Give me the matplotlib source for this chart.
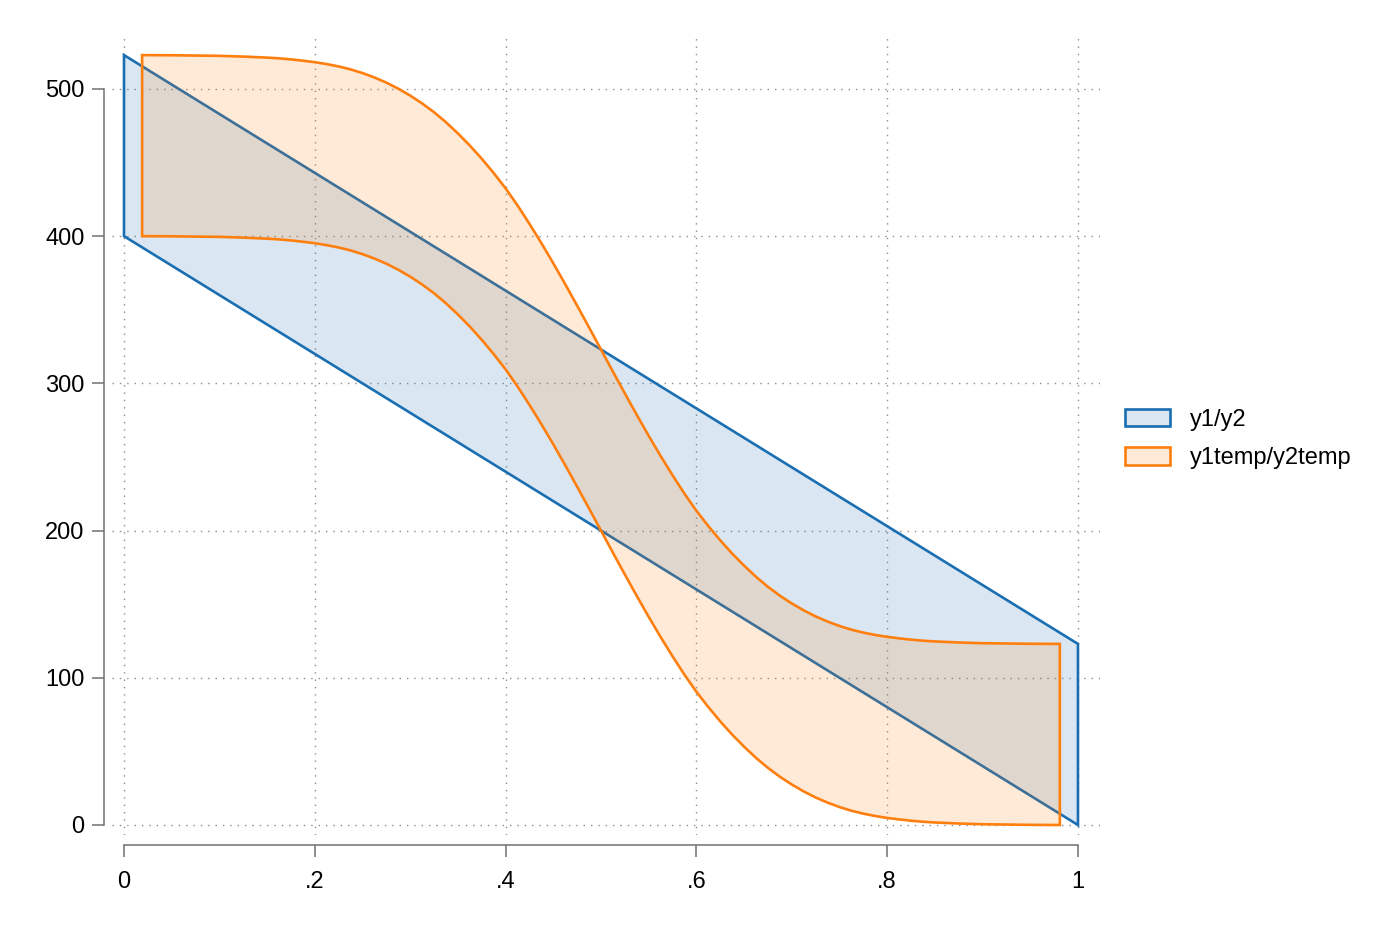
import matplotlib
matplotlib.use("Agg")
import matplotlib.pyplot as plt

plt.rcParams['font.family'] = ['Liberation Sans Narrow', 'Liberation Sans', 'DejaVu Sans']

# ---- data ----
x_band = [0.0, 1.0]
y1 = [523, 123]
y2 = [400, 0]

x_temp = [0.019, 0.05, 0.075, 0.1, 0.125, 0.15, 0.1625, 0.175, 0.1875, 0.2,
          0.2125, 0.225, 0.2375, 0.25, 0.2625, 0.275, 0.2875, 0.3, 0.3125, 0.325,
          0.3375, 0.35, 0.3625, 0.375, 0.3875, 0.4, 0.4125, 0.425, 0.4375, 0.45,
          0.4625, 0.475, 0.4875, 0.5,
          0.5125, 0.525, 0.5375, 0.55, 0.5625, 0.575, 0.5875, 0.6, 0.6125, 0.625,
          0.6375, 0.65, 0.6625, 0.675, 0.6875, 0.7, 0.7125, 0.725, 0.7375, 0.75,
          0.7625, 0.775, 0.7875, 0.8, 0.8125, 0.825, 0.8375, 0.85, 0.875, 0.9,
          0.925, 0.95, 0.981]
y1temp = [523, 522.9, 522.7, 522.5, 522.0, 521.3, 520.8, 520.1, 519.2, 518.2,
          516.9, 515.3, 513.3, 510.8, 507.8, 504.3, 500.2, 495.5, 490.2, 484.2,
          477.4, 469.8, 461.6, 452.6, 442.9, 432.5, 420.9, 408.4, 395.3, 381.6,
          367.4, 352.8, 338.0, 323,
          308.0, 293.2, 278.6, 264.4, 250.7, 237.6, 225.1, 213.5, 203.1, 193.4,
          184.4, 176.2, 168.6, 161.8, 155.8, 150.5, 145.8, 141.7, 138.2, 135.2,
          132.7, 130.7, 129.1, 127.8, 126.8, 125.9, 125.2, 124.7, 124.0, 123.5,
          123.3, 123.1, 123]
y2temp = [400, 399.9, 399.7, 399.5, 399.0, 398.3, 397.8, 397.1, 396.2, 395.2,
          393.9, 392.3, 390.3, 387.8, 384.8, 381.3, 377.2, 372.5, 367.2, 361.2,
          354.4, 346.8, 338.6, 329.6, 319.9, 309.5, 297.9, 285.4, 272.3, 258.6,
          244.4, 229.8, 215.0, 200,
          185.0, 170.2, 155.6, 141.4, 127.7, 114.6, 102.1, 90.5, 80.1, 70.4,
          61.4, 53.2, 45.6, 38.8, 32.8, 27.5, 22.8, 18.7, 15.2, 12.2,
          9.7, 7.7, 6.1, 4.8, 3.8, 2.9, 2.2, 1.7, 1.0, 0.5,
          0.3, 0.1, 0]

x_ticks = [0, 0.2, 0.4, 0.6, 0.8, 1.0]
x_ticklabels = ['0', '.2', '.4', '.6', '.8', '1']
y_ticks = [0, 100, 200, 300, 400, 500]
y_ticklabels = ['0', '100', '200', '300', '400', '500']
labels = ['y1/y2', 'y1temp/y2temp']

blue = '#1a6eb2'
orange = '#ff7f0e'
axis_gray = '#707070'

fig = plt.figure(figsize=(14, 9.33), dpi=100)
ax = fig.add_axes([112 / 1400, 1 - 835 / 933, (1100 - 112) / 1400, (835 - 37) / 933])

ax.fill(x_band + x_band[::-1], y1 + y2[::-1], facecolor=(blue, 0.16),
        edgecolor=blue, linewidth=1.9, joinstyle='miter', label=labels[0], zorder=2)
ax.fill(x_temp + x_temp[::-1], y1temp + y2temp[::-1], facecolor=(orange, 0.16),
        edgecolor=orange, linewidth=1.9, joinstyle='miter', label=labels[1], zorder=3)

ax.set_xlim(-0.01258, 1.0231)
ax.set_ylim(-6.8, 535.3)

ax.set_xticks(x_ticks)
ax.set_xticklabels(x_ticklabels)
ax.set_yticks(y_ticks)
ax.set_yticklabels(y_ticklabels)

ax.set_axisbelow(True)
ax.grid(True, color='#8c8c8c', linestyle=(0, (1, 4.3)), linewidth=1.0)

for s in ['top', 'right']:
    ax.spines[s].set_visible(False)
ax.spines['left'].set_position(('outward', 5.76))
ax.spines['left'].set_bounds(0, 500)
ax.spines['bottom'].set_position(('outward', 7.2))
ax.spines['bottom'].set_bounds(0, 1)
for s in ['left', 'bottom']:
    ax.spines[s].set_color(axis_gray)
    ax.spines[s].set_linewidth(1.1)

ax.tick_params(axis='both', length=8.6, width=1.1, color=axis_gray,
               labelsize=17, labelcolor='black')
ax.tick_params(axis='y', pad=5.5)
ax.tick_params(axis='x', pad=10)

fig.legend(loc='center left', bbox_to_anchor=(1125 / 1400, 1 - 439 / 933),
           frameon=False, fontsize=17, handlelength=1.9, handleheight=0.76,
           handletextpad=0.85, labelspacing=0.68, borderpad=0, borderaxespad=0)

fig.savefig('out.png', dpi=100)
